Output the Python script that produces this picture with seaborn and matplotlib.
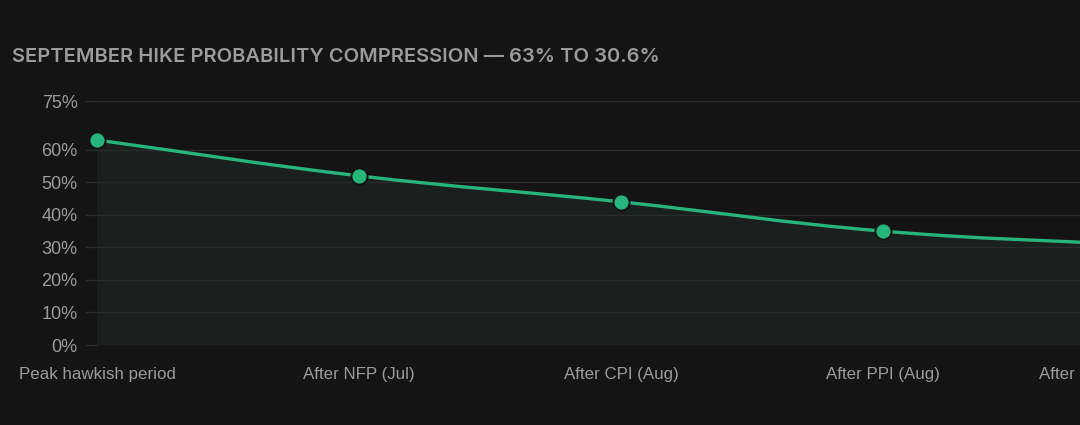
import numpy as np
import seaborn as sns
import matplotlib.pyplot as plt
from matplotlib.path import Path
from matplotlib.patches import PathPatch
import pandas as pd

stages = ['Peak hawkish period', 'After NFP (Jul)', 'After CPI (Aug)',
          'After PPI (Aug)', 'After Jackson Hole (Aug 22)']
hike_prob = [63, 52, 44, 35, 30.6]
y_ticks = [0, 10, 20, 30, 40, 50, 60, 75]

BG = '#141414'
GREEN = '#27b47d'
TEXT = '#9b9b9b'
GRID = '#2a2c2b'

sns.set_theme(style='dark')
plt.rcParams['font.family'] = ['Liberation Sans', 'DejaVu Sans']

df = pd.DataFrame({'stage': stages, 'prob': hike_prob, 'x': np.arange(len(stages))})

fig = plt.figure(figsize=(10.8, 4.25), dpi=100, facecolor=BG)
ax = fig.add_axes([97 / 1080, 80 / 425, 1048 / 1080, 244 / 425])
ax.set_facecolor(BG)
ax.set_xlim(0, len(stages) - 1)
ax.set_ylim(0, 75)

# smooth curve (Chart.js-style tension) built in display space
pts = ax.transData.transform(np.column_stack([df['x'], df['prob']]))
n = len(pts)
t = 0.4
cps = []
for i in range(n):
    p1 = pts[i]
    p0 = pts[i - 1] if i > 0 else p1
    p2 = pts[i + 1] if i < n - 1 else p1
    d01 = np.hypot(*(p1 - p0))
    d12 = np.hypot(*(p2 - p1))
    s = d01 + d12 if d01 + d12 > 0 else 1
    fa = t * d01 / s
    fb = t * d12 / s
    cps.append((p1 - fa * (p2 - p0), p1 + fb * (p2 - p0)))
verts = [pts[0]]
codes = [Path.MOVETO]
for i in range(n - 1):
    verts += [cps[i][1], cps[i + 1][0], pts[i + 1]]
    codes += [Path.CURVE4] * 3
inv = ax.transData.inverted()
verts_d = inv.transform(np.array(verts))

fill_verts = np.vstack([verts_d, [[n - 1, 0], [0, 0], verts_d[0]]])
fill_codes = codes + [Path.LINETO, Path.LINETO, Path.CLOSEPOLY]
ax.add_patch(PathPatch(Path(fill_verts, fill_codes), facecolor='#1a201d',
                       edgecolor='none', zorder=1))
ax.add_patch(PathPatch(Path(verts_d, codes), facecolor='none', edgecolor=GREEN,
                       lw=2.4, zorder=3, capstyle='round'))

sns.scatterplot(data=df, x='x', y='prob', ax=ax, s=135, color=GREEN,
                edgecolor=BG, linewidth=1.4, zorder=4, clip_on=False)

ax.set_yticks(y_ticks)
ax.set_yticklabels([f'{v}%' for v in y_ticks])
ax.set_xticks(df['x'])
ax.set_xticklabels(stages)
ax.grid(axis='y', color=GRID, lw=1, zorder=2)
ax.grid(axis='x', visible=False)
ax.set_axisbelow(False)
for sp in ax.spines.values():
    sp.set_visible(False)
ax.tick_params(axis='y', colors=GRID, labelcolor=TEXT, labelsize=13,
               length=9, width=1, pad=5, left=True)
ax.tick_params(axis='x', labelcolor=TEXT, labelsize=12.2, length=0, pad=16)
ax.set_xlabel('')
ax.set_ylabel('')

fig.text(12 / 1080, 1 - 57 / 425, 'SEPTEMBER HIKE PROBABILITY COMPRESSION — 63% TO 30.6%',
         color=TEXT, fontsize=14.5, fontweight='semibold', va='center', ha='left',
         family=['Inter', 'DejaVu Sans'])

fig.savefig('out.png', dpi=100, facecolor=BG)
